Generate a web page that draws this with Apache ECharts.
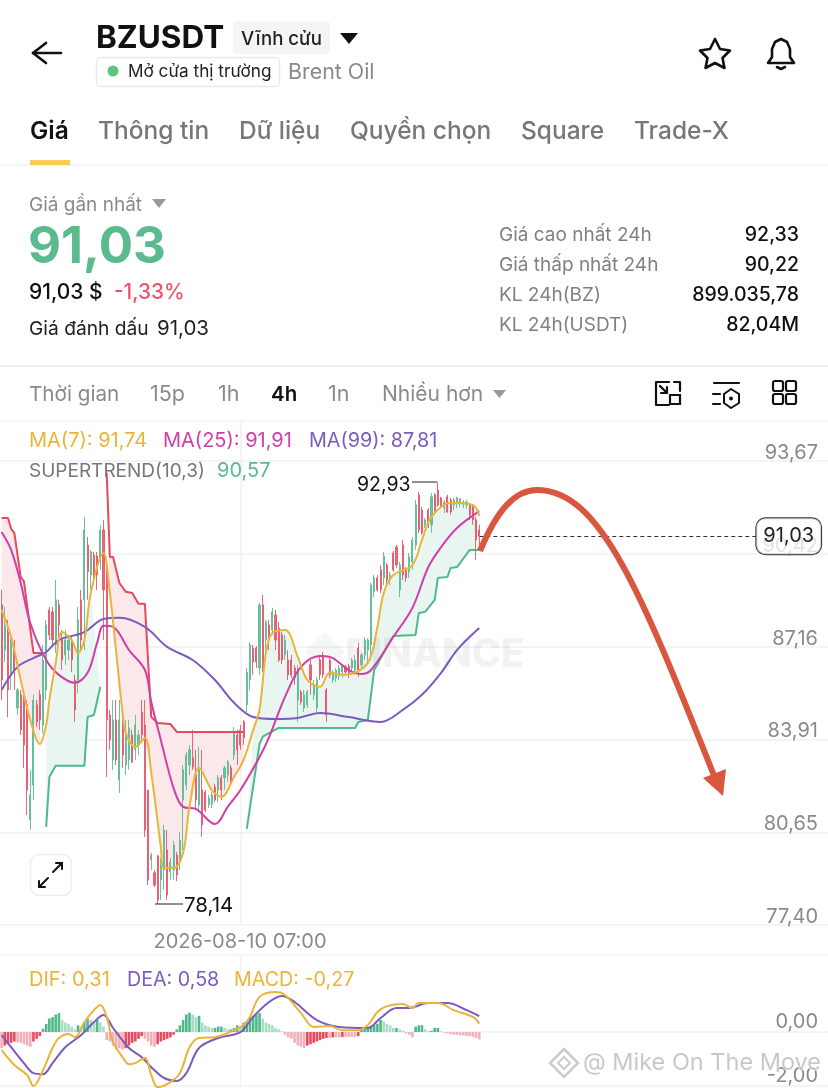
<!DOCTYPE html>
<html><head><meta charset="utf-8">
<style>html,body{margin:0;padding:0;background:#fff}#c{width:828px;height:1088px}</style>
<script src="https://cdn.jsdelivr.net/npm/echarts@6/dist/echarts.min.js"></script>
</head><body><div id="c"></div>
<script>
// candles: [open, close, low, high]
const candles = [
[88.62,85.99,85.29,89.15],[87.04,87.92,86.62,88.55],[87.67,85.64,84.69,88.10],[86.17,87.39,85.64,87.57],[87.04,86.27,85.64,87.39],
[85.01,85.64,84.76,85.71],[85.47,84.24,84.06,85.64],[85.29,83.71,82.91,85.57],[85.12,82.13,81.26,85.29],[81.08,81.96,80.73,82.84],
[82.31,85.29,81.78,85.47],[85.12,84.52,84.34,85.29],[85.47,84.59,84.24,85.64],[84.41,86.69,84.13,87.22],[85.64,87.92,85.29,88.10],
[88.45,87.57,87.39,88.55],[88.38,87.39,87.22,88.55],[87.22,88.80,86.94,89.50],[88.62,87.92,87.39,88.80],[87.39,86.69,86.34,87.74],
[86.87,87.39,86.52,87.74],[87.04,87.39,86.69,87.57],[87.32,86.69,86.27,87.50],[85.99,84.94,84.52,86.17],[85.99,88.10,85.54,88.55],
[88.80,87.39,87.04,89.15],[88.80,91.25,87.04,91.71],[90.72,89.78,88.80,91.00],[89.67,90.48,89.15,90.55],[90.37,89.67,89.32,90.48],
[90.34,89.67,89.15,90.48],[90.13,91.25,89.85,91.43],[91.25,89.15,87.39,91.60],[90.02,84.59,82.59,90.20],[84.76,83.89,83.54,84.94],
[83.19,84.59,82.84,85.29],[84.59,83.19,83.01,85.29],[82.49,84.59,82.03,85.29],[84.59,83.36,82.91,84.76],[83.01,84.06,82.66,84.59],
[83.19,84.31,82.84,84.59],[84.06,83.12,83.08,84.24],[83.54,84.41,83.19,84.76],[83.71,84.06,83.36,84.24],[84.87,84.06,83.82,85.29],
[84.41,80.73,80.49,85.29],[82.13,78.98,78.80,82.13],[79.68,79.85,79.33,79.93],[79.23,78.80,78.73,79.33],[79.82,78.28,78.14,79.85],
[78.98,79.68,78.28,79.75],[79.33,80.73,78.63,80.91],[80.03,78.45,78.28,80.73],[79.26,79.61,78.98,79.75],[79.33,80.21,78.98,80.35],
[79.85,79.15,78.94,79.96],[79.68,80.38,79.33,80.66],[81.78,82.84,80.03,83.01],[82.31,83.36,82.13,83.47],[83.01,83.54,82.66,83.71],
[83.26,82.94,82.84,84.24],[82.66,81.78,81.43,83.54],[81.61,82.84,81.36,83.64],[82.13,80.91,80.49,83.54],[82.06,81.43,81.36,82.13],
[81.61,81.85,81.50,81.96],[81.64,81.96,81.50,82.06],[82.24,81.78,81.71,82.35],[82.13,82.56,81.71,82.66],[82.56,82.13,81.78,82.66],
[82.56,82.91,82.13,82.98],[82.66,83.12,82.42,83.19],[82.91,82.42,82.35,83.01],[83.36,84.13,83.19,84.34],[84.06,83.54,83.01,84.24],
[84.24,83.71,83.54,84.41],[84.52,83.96,83.71,84.59],[85.12,86.27,84.87,86.41],[85.99,87.22,85.64,87.32],[87.11,86.62,86.17,87.22],
[87.11,86.62,86.41,87.18],[86.41,88.62,86.17,88.69],[88.62,86.41,86.27,88.97],[87.39,88.03,87.04,88.10],[87.92,87.39,87.04,88.10],
[87.74,88.38,87.57,88.52],[88.27,87.39,87.04,88.45],[87.81,86.69,86.62,88.03],[87.57,86.69,86.55,87.67],[86.87,87.39,86.69,87.57],
[86.69,86.17,85.99,87.04],[86.69,86.17,86.06,86.87],[86.41,86.06,85.82,86.52],[85.29,86.34,84.52,86.52],[85.57,85.22,85.12,85.64],
[85.01,85.47,84.87,85.64],[85.12,85.57,85.01,85.64],[86.52,85.99,85.47,86.69],[85.47,85.82,85.29,85.99],[85.01,85.99,84.87,86.10],
[86.69,86.17,85.99,86.87],[86.87,86.17,86.06,86.97],[85.64,84.76,84.52,85.71],[86.69,86.17,86.06,86.80],[85.99,86.27,85.89,86.34],
[86.06,86.34,85.92,86.41],[86.13,86.41,85.99,86.52],[86.27,86.48,86.06,86.55],[86.45,86.27,86.17,86.52],[86.48,86.20,86.06,86.55],
[86.41,86.69,86.27,86.76],[86.34,86.69,86.17,86.87],[87.11,86.34,86.10,87.29],[86.52,86.87,86.34,86.94],[86.87,87.39,86.69,87.50],
[87.04,87.39,86.62,87.46],[87.22,89.32,86.69,89.39],[89.08,89.57,88.90,89.67],[89.57,89.15,89.08,89.67],[89.85,89.15,89.04,90.02],
[89.57,90.34,89.32,90.48],[90.02,89.50,89.32,90.09],[89.50,89.67,89.32,89.78],[90.44,89.85,89.78,90.51],[90.65,90.02,89.92,90.72],
[89.15,90.02,88.90,90.13],[90.72,89.67,89.50,90.90],[89.85,89.57,89.43,89.95],[89.78,90.30,89.57,90.44],[90.13,90.90,89.85,91.00],
[90.72,92.13,90.55,92.30],[92.48,91.25,91.15,92.58],[91.95,91.15,91.08,92.06],[91.43,91.60,91.32,91.67],[91.95,91.43,91.32,92.02],
[91.43,92.41,91.15,92.55],[92.48,91.88,91.85,92.55],[92.65,92.13,92.06,92.93],[92.37,92.06,91.99,92.41],[92.02,92.23,91.85,92.30],
[92.41,91.88,91.85,92.48],[92.30,91.88,91.78,92.37],[92.13,92.30,91.95,92.37],[92.20,92.37,92.02,92.41],[92.20,92.34,92.06,92.37],
[92.16,92.23,92.02,92.30],[92.13,92.23,91.99,92.30],[92.13,91.78,91.60,92.20],[92.06,91.60,91.43,92.13],[91.60,90.90,90.20,91.71],
[91.25,91.03,90.55,91.43]];

// moving averages sampled as [candle index, price]
const ma7 = [[0,88.45],[3,87.50],[6,85.99],[9,84.59],[12,83.75],[14,84.41],[15,85.29],[17,86.59],[19,87.67],[22,87.39],[24,86.94],[26,87.39],[28,89.04],[32,90.44],[34,89.04],[36,86.94],[38,84.83],[39,84.13],[42,83.64],[45,83.96],[47,82.73],[50,80.14],[51,79.40],[54,79.40],[57,79.93],[59,81.54],[62,82.91],[66,82.13],[69,81.89],[73,82.59],[76,83.19],[79,84.24],[81,84.94],[83,86.94],[85,87.64],[89,87.74],[93,86.80],[96,85.99],[100,85.75],[103,86.24],[108,86.17],[115,86.59],[118,87.85],[120,89.04],[123,89.67],[129,90.02],[132,90.90],[135,91.71],[141,92.20],[148,92.13],[150,91.74]];
const ma25 = [[0,91.18],[3,90.55],[6,89.39],[9,87.99],[14,86.69],[18,86.17],[23,85.89],[27,86.24],[30,87.29],[32,87.89],[35,87.85],[40,87.04],[45,86.34],[47,85.22],[50,83.89],[54,82.20],[57,81.54],[61,81.47],[67,80.94],[71,81.54],[75,82.13],[81,83.29],[84,83.99],[89,85.40],[94,86.45],[100,86.83],[104,86.76],[109,86.34],[113,86.20],[116,86.34],[123,87.50],[129,88.52],[134,89.95],[138,90.65],[143,91.32],[150,91.91]];
const ma99 = [[0,85.64],[5,86.45],[10,86.76],[14,86.97],[18,87.39],[26,87.67],[32,88.13],[37,88.17],[45,87.85],[52,87.15],[60,86.69],[67,85.99],[73,85.19],[79,84.69],[86,84.62],[93,84.66],[100,84.83],[109,84.69],[119,84.52],[126,84.94],[132,85.47],[138,86.24],[143,87.04],[150,87.81]];

// supertrend segments
const stRedA = [[0,91.67],[2,91.67],[3,91.29],[4,91.15],[6,89.60],[7,89.46],[10,86.94],[13,86.94]];
const stGreenA = [[14,80.84],[15,82.59],[17,82.98],[26,82.98],[27,84.69],[29,84.76],[31,85.75]];
const stRedB = [[33,93.25],[34,90.30],[35,90.30],[37,89.39],[39,89.08],[41,89.04],[43,88.66],[45,88.66],[47,84.69],[49,84.48],[53,84.45],[55,84.17],[76,84.17]];
const stGreenB = [[77,80.77],[81,83.75],[82,84.00],[87,84.31],[111,84.31],[112,84.52],[115,84.59],[117,86.34],[121,87.15],[123,87.53],[130,87.57],[131,88.34],[133,88.38],[136,88.80],[137,89.57],[140,89.60],[141,89.92],[143,89.95],[147,90.55],[150,90.55]];

// MACD panel
const macdHist = [-.6,-.5,-.45,-.4,-.35,-.38,-.4,-.45,-.5,-.55,-.35,-.25,-.15,.12,.3,.5,.55,.65,.7,.45,.35,.3,.2,.1,.25,.2,.35,.5,.45,.35,.45,.35,.2,-.3,-.35,-.5,-.6,-.6,-.65,-.6,-.5,-.4,-.35,-.25,-.15,-.25,-.35,-.5,-.55,-.45,-.35,-.3,-.25,-.2,-.1,.1,.25,.45,.65,.72,.65,.55,.6,.35,.25,.2,.15,.15,.2,.2,.15,.1,.1,.15,.25,.2,.35,.4,.55,.6,.65,.7,.5,.35,.3,.25,.15,.1,.03,-.1,-.2,-.25,-.4,-.5,-.55,-.6,-.5,-.45,-.4,-.35,-.3,-.25,-.22,-.22,-.2,-.2,-.2,-.18,-.18,-.18,-.18,-.18,-.15,.15,.15,.15,.2,.25,.3,.45,.4,.3,.25,.15,.15,.1,.05,-.05,-.1,-.2,.2,.25,.25,.1,.03,.05,.15,.15,.03,-.03,-.05,-.08,-.1,-.1,-.12,-.12,-.15,-.15,-.18,-.22,-.27];
const dif = [[0,-.67],[4,-1.22],[8,-1.59],[10,-2.0],[13,-1.41],[16,-.59],[18,-.22],[21,-.07],[23,-.19],[26,.37],[29,.81],[31,1.0],[33,.56],[35,-.37],[38,-.93],[40,-1.19],[42,-1.15],[45,-.96],[47,-1.59],[49,-2.04],[53,-1.85],[56,-1.52],[59,-.56],[62,-.22],[67,-.19],[73,.07],[76,.26],[78,.56],[81,1.30],[86,1.48],[89,1.37],[94,.70],[98,.19],[103,.22],[107,.07],[112,.07],[115,.26],[118,.74],[121,.96],[126,1.04],[129,.89],[131,1.07],[137,1.07],[142,.81],[148,.56],[150,.31]];
const dea = [[0,-.11],[3,-.56],[7,-1.15],[10,-1.52],[13,-1.56],[16,-1.15],[20,-.56],[25,-.11],[29,.37],[32,.63],[35,.15],[40,-.59],[44,-.93],[47,-1.30],[51,-1.70],[55,-1.81],[58,-1.52],[62,-.59],[68,-.22],[75,0],[79,.56],[84,1.11],[88,1.33],[92,1.11],[99,.44],[106,.19],[115,.15],[119,.52],[124,.89],[128,.89],[134,1.07],[140,1.07],[146,.81],[150,.59]];

const priceTicks = [93.67,90.42,87.16,83.91,80.65,77.40];
const macdTicks = [0,-2];
const lastPrice = 91.03, highPrice = 92.93, lowPrice = 78.14;
const slots = Array.from({length:260},(_,i)=>String(i));

const C = {up:'#5ABD93',down:'#E8566A',ma7:'#E9B43A',ma25:'#CF3FA9',ma99:'#7B5CBD',grid:'#F1F1F1',lab:'#8A8A8A',upFill:'#E8F5F0',downFill:'#FBE8EB',stUp:'#4FB98B',stDown:'#E64A5E'};
const FF = 'Inter, "Noto Sans", sans-serif';
const comma = v => v.toFixed(2).replace('.',',');

function fillBetween(band, color){
  const a = band[0][0], b = band[band.length-1][0];
  const other = ma7.filter(p=>p[0]>=a && p[0]<=b).reverse();
  const pts = band.concat(other);
  return {type:'custom',xAxisIndex:0,yAxisIndex:0,z:1,silent:true,data:[[a,band[0][1]]],
    renderItem:(p,api)=>({type:'polygon',shape:{points:pts.map(q=>api.coord(q))},style:{fill:color}})};
}
const line = (data,color,w,xi,z,smooth)=>({type:'line',xAxisIndex:xi,yAxisIndex:xi,data,showSymbol:false,symbol:'none',smooth,lineStyle:{color,width:w},z,silent:true,animation:false});

// Interface text: [text, x, y, size, colour, weight, align]
const T = [
['BZUSDT',96,39,31.5,'#111',700,'left'],['Vĩnh cửu',241,39,18.6,'#222',500,'left'],['Mở cửa thị trường',128,72,17.2,'#222',400,'left'],['Brent Oil',288,73,21.4,'#8a8a8a',400,'left'],
['Giá',30,132,24.5,'#111',600,'left'],['Thông tin',98,132,24.5,'#777',500,'left'],['Dữ liệu',239,132,24.5,'#777',500,'left'],['Quyền chọn',350,132,24.5,'#777',500,'left'],['Square',521,132,24.5,'#777',500,'left'],['Trade-X',634,132,24.5,'#777',500,'left'],
['Giá gần nhất',29,205,19,'#8a8a8a',400,'left'],['91,03',28,248,51,'#5BBA8E',700,'left'],['91,03 $',29,293,21,'#111',500,'left'],['-1,33%',114,293,20.8,'#E8556A',500,'left'],['Giá đánh dấu',29,329,19.2,'#222',400,'left'],['91,03',157,329,20.5,'#222',400,'left'],
['Giá cao nhất 24h',499,235,19,'#808080',400,'left'],['Giá thấp nhất 24h',499,265,19,'#808080',400,'left'],['KL 24h(BZ)',499,295,19,'#808080',400,'left'],['KL 24h(USDT)',499,325,19,'#808080',400,'left'],
['92,33',799,235,19.5,'#111',500,'right'],['90,22',799,265,19.5,'#111',500,'right'],['899.035,78',799,295,19.5,'#111',500,'right'],['82,04M',799,325,19.5,'#111',500,'right'],
['Thời gian',29,395,20.7,'#8a8a8a',400,'left'],['15p',150,395,21.5,'#8a8a8a',400,'left'],['1h',218,395,21.5,'#8a8a8a',400,'left'],['4h',271,395,20.5,'#111',600,'left'],['1n',328,395,21.5,'#8a8a8a',400,'left'],['Nhiều hơn',382,395,21,'#8a8a8a',400,'left'],
['MA(7): 91,74',29,441,20,C.ma7,400,'left'],['MA(25): 91,91',163,441,20,C.ma25,400,'left'],['MA(99): 87,81',309,441,19.8,C.ma99,400,'left'],['SUPERTREND(10,3)',29,471,19,'#777',400,'left'],['90,57',217,471,20,'#5BBA8E',400,'left'],
[comma(highPrice),357,485,19.5,'#111',400,'left'],[comma(lowPrice),184,906,20.5,'#111',400,'left'],['2026-08-10 07:00',240,942,20,'#8a8a8a',400,'center'],
['DIF: 0,31',29,980,20,C.ma7,400,'left'],['DEA: 0,58',127,980,19.7,C.ma99,400,'left'],['MACD: -0,27',234,980,19.7,C.ma7,400,'left'],
];
const textEls = T.map(t=>({type:'text',z:100,style:{text:t[0],x:t[1],y:t[2],fill:t[4],font:`${t[5]} ${t[3]}px ${FF}`,textAlign:t[6],textVerticalAlign:'middle'}}));
const rule = (x1,y1,x2,y2,c,w)=>({type:'line',z:90,shape:{x1,y1,x2,y2},style:{stroke:c,lineWidth:w||1}});
const poly = (pts,fill)=>({type:'polygon',z:100,shape:{points:pts},style:{fill}});
const stroke = (pts,c,w,smooth)=>({type:'polyline',z:100,shape:{points:pts,smooth:smooth||0},style:{stroke:c,lineWidth:w,fill:null,lineCap:'round',lineJoin:'round'}});
const box = (x,y,w,h,r,s)=>({type:'rect',z:95,shape:{x,y,width:w,height:h,r},style:s});
const arrowPen = {stroke:'#D9573F',lineWidth:6,fill:null,lineCap:'butt'};

const deco = [
 rule(0,165,828,165,'#F3F3F3',1.5),rule(0,366,828,366,'#EFEFEF',2),rule(0,421,828,421,'#F3F3F3',1.5),rule(0,955,828,955,'#F3F3F3',1.5),
 box(30,160,40,5,0,{fill:'#F4CE55'}),
 box(233,21,97,33,4,{fill:'#F5F5F5'}),
 box(96.5,57.5,183,29,4,{fill:'#fff',stroke:'#E9E9E9',lineWidth:1.5}),
 {type:'circle',z:100,shape:{cx:113,cy:71,r:5.5},style:{fill:'#5CC584'}},
 poly([[340,33],[358,33],[349,44]],'#111'),
 poly([[152,199],[166,199],[159,208]],'#999'),
 poly([[493,390],[506,390],[499.5,398]],'#999'),
 stroke([[33,53],[61,53]],'#111',2.6),stroke([[46,43],[33,53],[46,63]],'#111',2.6),
 // star
 stroke([[715,39],[720,49],[730,50.5],[722.5,58],[724.5,68],[715,63],[705.5,68],[707.5,58],[700,50.5],[710,49],[715,39]],'#111',2.6),
 // bell
 stroke([[768,63],[772,57],[772,49],[775,42],[781,39],[787,42],[790,49],[790,57],[794,63],[768,63]],'#111',2.6),
 stroke([[777,67],[781,69],[785,67]],'#111',2.6),
 // toolbar icons
 stroke([[669,382],[656,382],[656,405],[669,405]],'#111',2.2),stroke([[674,382],[680,382],[680,391]],'#111',2.2),box(670,395,10,9,0,{stroke:'#111',lineWidth:2.2,fill:null}),
 stroke([[660,386],[667,393]],'#111',2.4),stroke([[667,387],[667,393],[661,393]],'#111',2.2),
 stroke([[714,383],[739,383]],'#111',2.2),stroke([[713,394],[720,394]],'#111',2.2),stroke([[713,404],[720,404]],'#111',2.2),
 stroke([[731,389],[739,394],[739,403],[731,408],[724,403],[724,394],[731,389]],'#111',2),{type:'circle',z:101,shape:{cx:731,cy:398.5,r:2},style:{fill:'#111'}},
 box(773,381,10,10,2,{stroke:'#111',lineWidth:2.2,fill:null}),box(786,381,10,10,2,{stroke:'#111',lineWidth:2.2,fill:null}),box(773,394,10,10,2,{stroke:'#111',lineWidth:2.2,fill:null}),box(786,394,10,10,2,{stroke:'#111',lineWidth:2.2,fill:null}),
 // extreme price leader lines
 rule(412,482,437,482,'#222',1),rule(155,904,183,904,'#222',1),
 // expand button
 box(30.5,854.5,41,41,9,{fill:'#fff',stroke:'#EEE',lineWidth:1.5}),
 stroke([[39,887],[48,878]],'#111',2),stroke([[39,881],[39,887],[45,887]],'#111',2),stroke([[53,872],[62,863]],'#111',2),stroke([[56,863],[62,863],[62,869]],'#111',2),
 // watermarks
 {type:'text',z:3,style:{text:'BINANCE',x:345,y:655,fill:'rgba(0,0,0,0.05)',font:`800 39px ${FF}`,textVerticalAlign:'middle'}},
 {type:'polygon',z:3,shape:{points:[[325,632],[345,652],[325,672],[305,652]]},style:{fill:'rgba(0,0,0,0.035)'}},
 {type:'text',z:120,style:{text:'@ Mike On The Move',x:583,y:1063,fill:'rgba(190,190,190,0.85)',font:`400 23.5px ${FF}`,textVerticalAlign:'middle',stroke:'#fff',lineWidth:1}},
 {type:'polygon',z:120,shape:{points:[[564,1049],[578,1063],[564,1077],[550,1063]]},style:{fill:'none',stroke:'rgba(190,190,190,0.8)',lineWidth:2.5}},
 {type:'polygon',z:120,shape:{points:[[564,1057],[570,1063],[564,1069],[558,1063]]},style:{fill:'none',stroke:'rgba(190,190,190,0.8)',lineWidth:2}},
 // hand-drawn forecast arrow
 {type:'bezierCurve',z:110,shape:{x1:480,y1:551,cpx1:497,cpy1:510,cpx2:515,cpy2:490,x2:537,y2:490},style:arrowPen},
 {type:'bezierCurve',z:110,shape:{x1:537,y1:490,cpx1:600,cpy1:490,cpx2:640,cpy2:590,x2:715,y2:778},style:arrowPen},
 poly([[703,778],[726,769],[723,796]],'#D9573F'),
];

const chart = echarts.init(document.getElementById('c'),null,{width:828,height:1088});
chart.setOption({
 animation:false,backgroundColor:'#fff',
 grid:[{left:0,right:0,top:421,height:504},{left:0,right:0,top:955,height:133}],
 xAxis:[0,1].map(i=>({type:'category',gridIndex:i,data:slots,boundaryGap:true,axisLine:{show:false},axisTick:{show:false},axisLabel:{show:false},splitLine:{show:false}})),
 yAxis:[
  {type:'value',gridIndex:0,position:'right',min:77.40,max:95.07,axisLine:{show:false},axisTick:{show:true,length:0,customValues:priceTicks},
   axisLabel:{inside:true,margin:10,customValues:priceTicks,formatter:comma,color:C.lab,fontSize:20,fontFamily:FF,verticalAlign:'bottom',lineHeight:16,showMinLabel:true,showMaxLabel:true,hideOverlap:false},
   splitLine:{show:true,lineStyle:{color:C.grid,width:1.5}}},
  {type:'value',gridIndex:1,position:'right',min:-2.07,max:2.85,axisLine:{show:false},axisTick:{show:true,length:0,customValues:macdTicks},
   axisLabel:{inside:true,margin:10,customValues:macdTicks,formatter:comma,color:C.lab,fontSize:20,fontFamily:FF,verticalAlign:'bottom',lineHeight:20},
   splitLine:{show:true,lineStyle:{color:C.grid,width:1.5}}}
 ],
 series:[
  fillBetween(stRedA,C.downFill),fillBetween(stGreenA,C.upFill),fillBetween(stRedB,C.downFill),fillBetween(stGreenB,C.upFill),
  {type:'candlestick',xAxisIndex:0,yAxisIndex:0,data:candles,barWidth:1.6,z:5,silent:true,itemStyle:{color:C.up,color0:C.down,borderColor:C.up,borderColor0:C.down,borderWidth:1,opacity:.9},
   markLine:{silent:true,symbol:'none',animation:false,z:1,data:[
     [{xAxis:75,y:421,lineStyle:{color:'#F1F1F1',width:1.5,type:'solid'},label:{show:false}},{xAxis:75,y:925}],
     [{coord:[150,lastPrice],lineStyle:{color:'#333',width:1,type:[4,3]},label:{show:true,position:'end',formatter:comma(lastPrice),color:'#222',fontSize:20,fontFamily:FF,backgroundColor:'rgba(255,255,255,0.75)',borderColor:'#333',borderWidth:1,borderRadius:9,padding:[8,7,8,7],distance:0}},{coord:[237,lastPrice]}]
   ]}},
  line(stRedA,C.stDown,2,0,6,false),line(stRedB,C.stDown,2,0,6,false),line(stGreenA,C.stUp,2,0,6,false),line(stGreenB,C.stUp,2,0,6,false),
  line(ma99,C.ma99,2,0,7,0.35),line(ma25,C.ma25,2,0,8,0.35),line(ma7,C.ma7,2,0,9,0.35),
  {type:'bar',xAxisIndex:1,yAxisIndex:1,barWidth:2.6,z:3,silent:true,
   data:macdHist.map((v,i)=>{const prev=i?macdHist[i-1]:v;const solid=v>=0?v>=prev:v>prev;
     return {value:v,itemStyle:{color:v>=0?(solid?C.stUp:'#A9DCC5'):(solid?C.stDown:'#F3B0BA')}}})},
  line(dea,C.ma99,2,1,6,0.35),line(dif,C.ma7,2,1,7,0.35),
  {type:'custom',xAxisIndex:1,yAxisIndex:1,z:1,silent:true,data:[[75,0]],renderItem:(p,api)=>{const c=api.coord([75,0]);return {type:'rect',shape:{x:c[0]-.75,y:955,width:1.5,height:133},style:{fill:'#F1F1F1'}}}}
 ],
 graphic:{elements:deco.concat(textEls)}
});
</script></body></html>
